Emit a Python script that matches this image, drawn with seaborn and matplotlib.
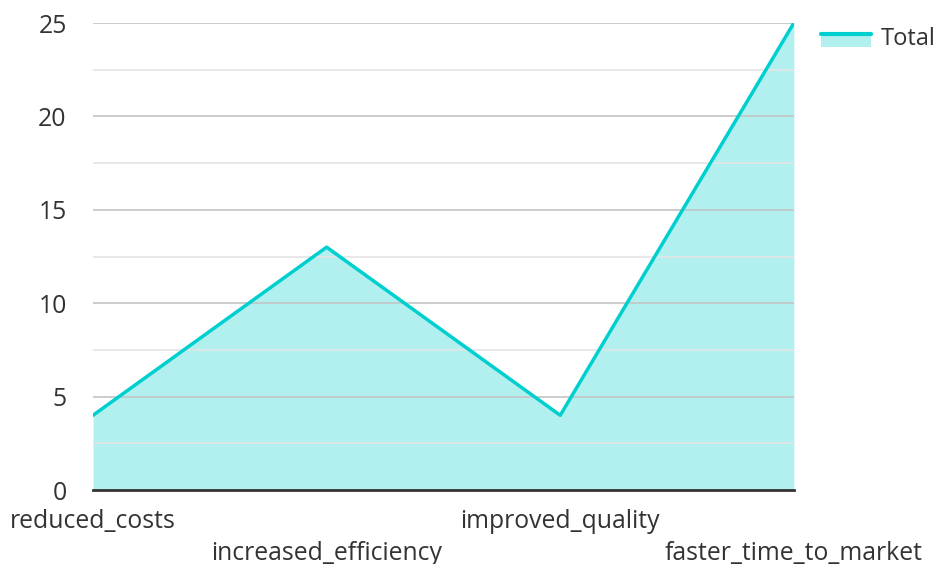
import matplotlib
matplotlib.use("Agg")
import matplotlib.pyplot as plt
import seaborn as sns
import pandas as pd
import numpy as np
from matplotlib.patches import Rectangle
from matplotlib.lines import Line2D
from matplotlib.legend_handler import HandlerBase

categories = ["reduced_costs", "increased_efficiency", "improved_quality", "faster_time_to_market"]
totals = [4, 13, 4, 25]
series_name = "Total"

sns.set_theme(style="white")
plt.rcParams['font.family'] = ['Open Sans', 'DejaVu Sans']

df = pd.DataFrame({"category": categories, "value": totals, "pos": np.arange(len(categories))})

fig = plt.figure(figsize=(9.35, 5.64), dpi=100)
ax = fig.add_axes([0.0995, 0.1312, 0.7495, 0.828])

line_color = "#00cfcf"
fill_alpha = 0.3
ax.fill_between(df["pos"], 0, df["value"], color=line_color, alpha=fill_alpha, linewidth=0, zorder=1)
sns.lineplot(data=df, x="pos", y="value", ax=ax, color=line_color, linewidth=2.5, zorder=3, label=series_name)

ax.set_xlim(0, len(categories) - 1)
ax.set_ylim(0, 25)
ax.set_yticks([0, 5, 10, 15, 20, 25])
ax.set_yticks([2.5, 7.5, 12.5, 17.5, 22.5], minor=True)
ax.set_axisbelow(False)
ax.grid(axis="y", which="major", color="#c4c4c4", linewidth=1.2, zorder=2)
ax.grid(axis="y", which="minor", color="#e4e4e4", linewidth=1.2, zorder=2)
ax.grid(axis="x", visible=False)
for s in ["left", "right", "top"]:
    ax.spines[s].set_visible(False)
ax.spines["bottom"].set_color("#333333")
ax.spines["bottom"].set_linewidth(2)
ax.spines["bottom"].set_zorder(4)
ax.tick_params(axis="y", which="both", length=0, pad=19, labelsize=17.8, labelcolor="#333333")
ax.set_xticks([])
ax.set_xlabel("")
ax.set_ylabel("")

for i, c in enumerate(categories):
    yoff = -31 if i % 2 == 0 else -63
    ax.annotate(c, xy=(i, 0), xycoords="data", xytext=(0, yoff), textcoords="offset pixels",
                ha="center", va="center", fontsize=17.8, color="#333333", annotation_clip=False)


class AreaHandler(HandlerBase):
    def create_artists(self, legend, orig_handle, xdescent, ydescent, width, height, fontsize, trans):
        rect = Rectangle((-xdescent, -ydescent - height * 0.1), width, height * 0.9,
                         facecolor=line_color, alpha=fill_alpha, edgecolor="none", transform=trans)
        ln = Line2D([-xdescent, -xdescent + width], [-ydescent + height * 0.7] * 2,
                    color=line_color, linewidth=3, transform=trans)
        return [rect, ln]


handles, labels = ax.get_legend_handles_labels()
leg = ax.legend(handles, labels, loc="upper left", bbox_to_anchor=(1.0086, 1.036), frameon=False,
                fontsize=17, handlelength=2.1, handletextpad=0.42,
                handler_map={Line2D: AreaHandler()})
for t in leg.get_texts():
    t.set_color("#333333")

fig.savefig("out.png", dpi=100)
